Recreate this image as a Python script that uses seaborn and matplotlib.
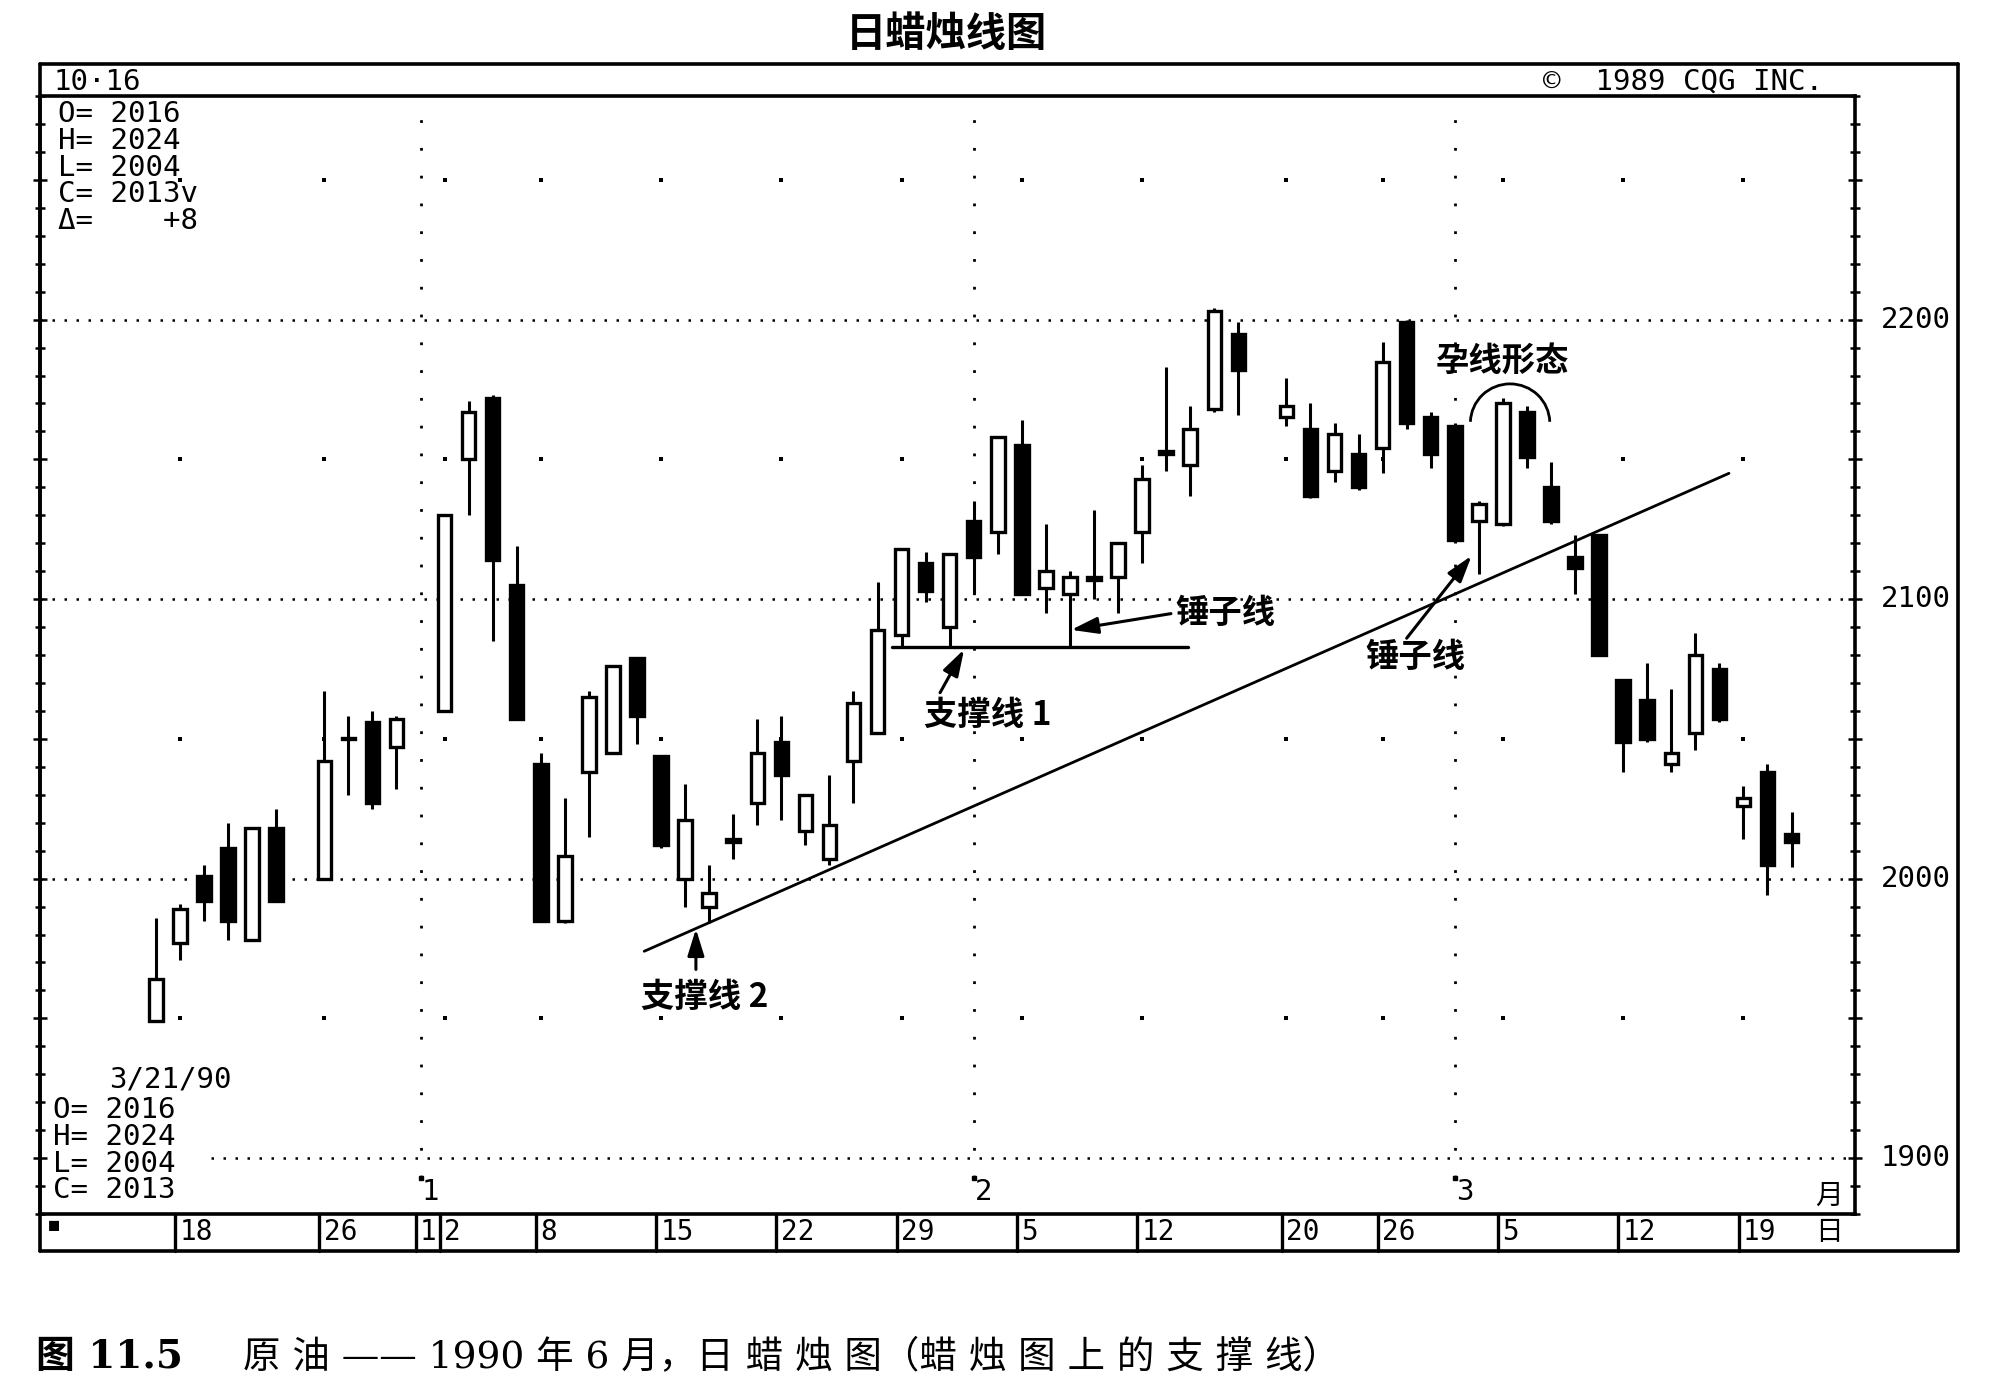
import numpy as np
import pandas as pd
import matplotlib
matplotlib.use("Agg")
import matplotlib.pyplot as plt
from matplotlib.patches import Arc
from matplotlib.lines import Line2D
from matplotlib.ticker import MultipleLocator, NullLocator
import seaborn as sns

# ---------------- data ----------------
first_day = "1989-12-15"
last_day = "1990-03-21"
holidays = ["1989-12-25", "1990-01-01", "1990-02-19"]

opens = [1949, 1977, 2001, 2011, 1978, 2018, 2000, 2050, 2056, 2047,
         2060, 2150, 2172, 2105, 2041, 1985, 2038, 2045, 2079,
         2044, 2000, 1990, 2014, 2027, 2049, 2017, 2007, 2042, 2052,
         2087, 2113, 2090, 2128, 2124, 2155, 2104, 2102, 2107, 2108,
         2124, 2153, 2148, 2168, 2195, 2165, 2161, 2146, 2152,
         2154, 2199, 2165, 2162, 2128, 2127, 2167, 2140, 2115, 2123,
         2071, 2064, 2041, 2052, 2075, 2026, 2038, 2016]
highs = [1986, 1991, 2005, 2020, 2018, 2025, 2067, 2058, 2060, 2058,
         2130, 2171, 2173, 2119, 2045, 2029, 2067, 2076, 2079,
         2044, 2034, 2005, 2023, 2057, 2058, 2030, 2037, 2067, 2106,
         2118, 2117, 2116, 2135, 2158, 2164, 2127, 2110, 2132, 2120,
         2148, 2183, 2169, 2204, 2199, 2179, 2170, 2163, 2159,
         2192, 2200, 2167, 2163, 2135, 2172, 2169, 2149, 2123, 2123,
         2071, 2077, 2068, 2088, 2077, 2033, 2041, 2024]
lows = [1949, 1971, 1985, 1978, 1978, 1992, 2000, 2030, 2025, 2032,
        2060, 2130, 2085, 2057, 1985, 1984, 2015, 2045, 2048,
        2011, 1990, 1984, 2007, 2019, 2021, 2012, 2005, 2027, 2052,
        2083, 2099, 2083, 2102, 2116, 2102, 2095, 2083, 2100, 2095,
        2113, 2146, 2137, 2167, 2166, 2162, 2136, 2142, 2139,
        2145, 2161, 2147, 2120, 2109, 2126, 2147, 2127, 2102, 2080,
        2038, 2049, 2038, 2046, 2056, 2014, 1994, 2004]
closes = [1964, 1989, 1992, 1985, 2018, 1992, 2042, 2050, 2027, 2057,
          2130, 2167, 2114, 2057, 1985, 2008, 2065, 2076, 2058,
          2012, 2021, 1995, 2013, 2045, 2037, 2030, 2019, 2063, 2089,
          2118, 2103, 2116, 2115, 2158, 2102, 2110, 2108, 2108, 2120,
          2143, 2152, 2161, 2203, 2182, 2169, 2137, 2159, 2140,
          2185, 2163, 2152, 2121, 2134, 2170, 2151, 2128, 2111, 2080,
          2049, 2050, 2045, 2080, 2057, 2029, 2005, 2013]

week_label_dates = ["1989-12-18", "1989-12-26", "1990-01-01", "1990-01-02",
                    "1990-01-08", "1990-01-15", "1990-01-22", "1990-01-29",
                    "1990-02-05", "1990-02-12", "1990-02-20", "1990-02-26",
                    "1990-03-05", "1990-03-12", "1990-03-19"]
week_labels = ["18", "26", "1", "2", "8", "15", "22", "29", "5", "12",
               "20", "26", "5", "12", "19"]
month_dates = ["1990-01-01", "1990-02-01", "1990-03-01"]
month_labels = ["1", "2", "3"]
price_ticks = [1900, 2000, 2100, 2200]
half_levels = [1950, 2050, 2150, 2250]

trend_slots = [20.3, 65.4]
trend_prices = [1974, 2145]
support1_slots = [30.6, 42.9]
support1_price = 2083

info_top = ["O= 2016", "H= 2024", "L= 2004", "C= 2013v", "\u0394=    +8"]
info_bottom_date = "3/21/90"
info_bottom = ["O= 2016", "H= 2024", "L= 2004", "C= 2013"]

# ---------------- derived positions ----------------
all_days = pd.bdate_range(first_day, last_day)
slot_of = {d: i for i, d in enumerate(all_days)}
hol = set(pd.to_datetime(holidays))
trade_days = [d for d in all_days if d not in hol]
xs = np.array([slot_of[d] for d in trade_days], dtype=float)
o = np.array(opens, float); h = np.array(highs, float)
l = np.array(lows, float); c = np.array(closes, float)

def slot(ds):
    ts = pd.Timestamp(ds)
    if ts in slot_of:
        return slot_of[ts]
    return slot_of[all_days[all_days.searchsorted(ts)]]

# ---------------- figure ----------------
sns.set_theme(style="white")
plt.rcParams['font.family'] = ['DejaVu Sans Mono', 'Noto Sans CJK SC']
CJK = ['Noto Sans CJK SC', 'DejaVu Sans']
CAP = ['DejaVu Serif', 'Noto Sans CJK SC']

W, H = 2000, 1397
fig = plt.figure(figsize=(20, 13.97), dpi=100)
fig.patch.set_facecolor('white')

def fx(x): return x / W
def fy(y): return 1 - y / H

Lp, Tp, Rp, Bp = 40, 96, 1855, 1214
ORt, ORr, ORb = 64, 1958, 1251
ax = fig.add_axes([fx(Lp), fy(Bp), (Rp - Lp) / W, (Bp - Tp) / H])
ax.set_facecolor('white')
XL = (-4.82, 70.64)
ax.set_xlim(*XL)
ax.set_ylim(1880, 2280)

for sp in ax.spines.values():
    sp.set_color('black'); sp.set_linewidth(2.6); sp.set_visible(True)

ax.xaxis.set_major_locator(NullLocator())
ax.yaxis.set_major_locator(MultipleLocator(50))
ax.yaxis.set_minor_locator(MultipleLocator(10))
ax.tick_params(axis='y', which='both', left=True, right=True, direction='inout',
               length=7, width=1.8, color='black', labelleft=False, labelright=False)
ax.tick_params(axis='y', which='major', length=10)
ax.set_xlabel(''); ax.set_ylabel('')

# grid: dotted horizontal lines
for p in price_ticks:
    x0 = XL[0] if p != 1900 else 2.3
    ax.plot([x0, XL[1]], [p, p], color='black', lw=1.8, ls=(0, (1, 3.8)), zorder=1)
# month vertical dotted lines
for md in month_dates:
    s = slot(md)
    ax.plot([s, s], [1893, 2280], color='black', lw=2.0, ls=(0, (1, 9)), zorder=1)
# sparse dots at half levels on week starts
wk = [slot(d) for d in week_label_dates if d not in holidays]
gx, gy = np.meshgrid(wk, half_levels)
ax.scatter(gx.ravel(), gy.ravel(), marker='s', s=5, color='black', linewidths=0, zorder=1)

# candles
ax.vlines(xs, l, h, color='black', lw=2.2, zorder=2)
bottoms = np.minimum(o, c)
heights = np.maximum(np.abs(c - o), 0.35)
cols = ['white' if cc >= oo else 'black' for oo, cc in zip(o, c)]
ax.bar(xs, heights, bottom=bottoms, width=0.56, color=cols, edgecolor='black',
       linewidth=2.4, zorder=3)

# trend line & support line 1
sns.lineplot(x=trend_slots, y=trend_prices, ax=ax, color='black', lw=2.0, zorder=4)
ax.plot(support1_slots, [support1_price] * 2, color='black', lw=2.4, zorder=4)

# annotations
ann_kw = dict(family=CJK, fontsize=24, fontweight='bold', color='black', zorder=6)
arr = dict(arrowstyle='-|>,head_length=0.9,head_width=0.28', lw=2.2, color='black',
           shrinkA=0, shrinkB=0, mutation_scale=18)
ax.text(34.6, 2058.5, "支撑线 1", ha='center', va='center', **ann_kw)
ax.annotate('', xy=(33.6, 2082), xytext=(32.6, 2066.5), arrowprops=arr)
ax.text(42.4, 2095, "锤子线", ha='left', va='center', **ann_kw)
ax.annotate('', xy=(38.05, 2089), xytext=(42.2, 2094.8), arrowprops=arr)
ax.text(52.35, 2079, "锤子线", ha='center', va='center', **ann_kw)
ax.annotate('', xy=(54.7, 2115.5), xytext=(52.0, 2086), arrowprops=arr)
ax.text(56.0, 2185, "孕线形态", ha='center', va='center', **ann_kw)
ax.add_patch(Arc((56.3, 2163), 3.3, 28, theta1=15, theta2=165, color='black', lw=2.0, zorder=6))
ax.text(22.8, 1957.5, "支撑线 2", ha='center', va='center', **ann_kw)
ax.annotate('', xy=(22.45, 1982), xytext=(22.45, 1967.5), arrowprops=arr)

# month labels at plot bottom
for md, lab in zip(month_dates, month_labels):
    s = slot(md)
    ax.text(s + 0.4, 1887.8, lab, ha='center', va='center', fontsize=21, color='black')
    ax.plot([s + 0.02], [1893], marker='s', ms=2.5, color='black', clip_on=False)
ax.text(69.56, 1886.6, "月", ha='center', va='center', fontsize=20, family=CJK, color='black')

# right-hand price labels
ytr = ax.get_yaxis_transform()
for p in price_ticks:
    ax.text((1916 - Lp) / (Rp - Lp), p, str(p), transform=ytr, ha='center', va='center',
            fontsize=21, color='black', clip_on=False)

# date strip
xtr = ax.get_xaxis_transform()
strip_h = (ORb - Bp) / (Bp - Tp)
for d, lab in zip(week_label_dates, week_labels):
    s = slot(d)
    ax.plot([s - 0.2, s - 0.2], [0, -strip_h], transform=xtr, color='black', lw=2.4,
            clip_on=False)
    ax.text(s - 0.02, -strip_h / 2, lab, transform=xtr, ha='left', va='center',
            fontsize=20, color='black', clip_on=False)
ax.text(69.56, -strip_h / 2, "日", transform=xtr, ha='center', va='center', fontsize=20,
        family=CJK, color='black', clip_on=False)
fig.text(fx(54), fy(1225), "\u25a0", ha='center', va='center', fontsize=12, color='black')

# outer frame and header strip
def fline(x0, y0, x1, y1, lw=2.6):
    fig.add_artist(Line2D([fx(x0), fx(x1)], [fy(y0), fy(y1)], color='black', lw=lw,
                          transform=fig.transFigure))
fline(Lp, ORt, ORr, ORt)
fline(ORr, ORt, ORr, ORb)
fline(Lp, ORb, ORr, ORb)
fline(Lp, ORt, Lp, ORb)

fig.text(fx(54), fy(82), "10\u00b716", ha='left', va='center', fontsize=21, color='black')
fig.text(fx(1543), fy(82), "\u00a9  1989 CQG INC.", ha='left', va='center', fontsize=21,
         color='black')

for i, t in enumerate(info_top):
    fig.text(fx(58), fy(114 + 26.8 * i), t, ha='left', va='center', fontsize=21, color='black')
fig.text(fx(109), fy(1080), info_bottom_date, ha='left', va='center', fontsize=21, color='black')
for i, t in enumerate(info_bottom):
    fig.text(fx(53), fy(1110 + 26.8 * i), t, ha='left', va='center', fontsize=21, color='black')

# title & caption
fig.text(fx(946), fy(35), "日蜡烛线图", ha='center', va='center', fontsize=29,
         fontweight='bold', family=CJK, color='black')
fig.text(fx(36), fy(1357), "图 11.5", ha='left', va='center', fontsize=28,
         fontweight='bold', family=CAP, color='black')
fig.text(fx(243), fy(1357),
         "原 油 —— 1990 年 6 月，日 蜡 烛 图（蜡 烛 图 上 的 支 撑 线）",
         ha='left', va='center', fontsize=27, family=CAP, color='black')

fig.savefig("out.png", dpi=100, facecolor='white')
